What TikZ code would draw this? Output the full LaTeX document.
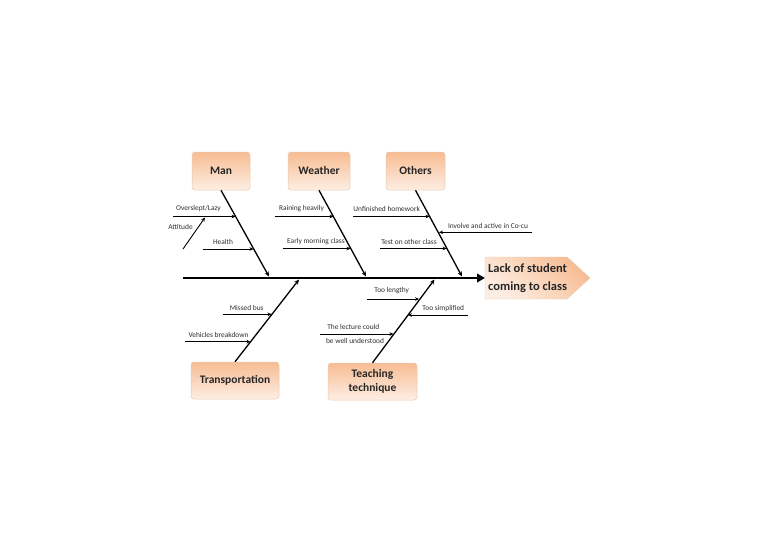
\documentclass[tikz,border=0pt]{standalone}
\usepackage{fontspec}
\setmainfont{Carlito}
\usetikzlibrary{arrows.meta,calc,backgrounds}
\definecolor{boxdark}{HTML}{F7BC92}
\definecolor{boxlight}{HTML}{FDEEE4}
\definecolor{boxedge}{HTML}{E9C9B0}
\definecolor{txt}{HTML}{2E2E2E}
\begin{document}
\begin{tikzpicture}[x=1pt,y=-1pt,
  catbox/.style={rectangle, rounded corners=3pt, draw=boxedge, line width=0.5pt,
    top color=boxdark, bottom color=boxlight, font=\bfseries\fontsize{11.5}{14}\selectfont,
    text=black!85, inner sep=0pt, align=center},
  bone/.style={line width=1.3pt, -{Stealth[length=5pt,width=4.5pt]}},
  cause/.style={line width=0.9pt, -{Stealth[length=4pt,width=3.6pt]}},
  lbl/.style={font=\fontsize{7.4}{8}\selectfont, text=txt, inner sep=0pt},
  spine/.style={line width=2.8pt, -{Triangle[length=8pt,width=8.5pt]}},
  headtext/.style={font=\bfseries\fontsize{12.5}{17.5}\selectfont, text=black!85, align=left,
    anchor=west, inner xsep=3pt, inner ysep=0pt, minimum height=42pt}]
\useasboundingbox (0,0) rectangle (768,543);

% head
\node[headtext] (head) at (485,278) {Lack of student\\coming to class};
\begin{scope}[on background layer]
  \shade[top color=boxdark, bottom color=boxlight, shading angle=-40, draw=boxedge, line width=0.4pt]
    (485,257) -- (567,257) -- (590,278) -- (567,299) -- (485,299) -- cycle;
\end{scope}

% category boxes
\node[catbox, minimum width=58pt, minimum height=38pt] (man) at (221,171) {Man};
\node[catbox, minimum width=62pt, minimum height=38pt] (weather) at (319,171) {Weather};
\node[catbox, minimum width=59pt, minimum height=38pt] (others) at (415.5,171) {Others};
\node[catbox, minimum width=88pt, minimum height=37pt] (trans) at (235,380.5) {Transportation};
\node[catbox, minimum width=89pt, minimum height=37pt] (teach) at (372.5,381.5) {Teaching\\technique};

% spine
\coordinate (sp0) at (183,278);
\draw[spine] (sp0) -- (head.west);

% bone ends on spine
\coordinate (manend) at (269,276.5);
\coordinate (weaend) at (366,276.5);
\coordinate (othend) at (462,276.5);
\coordinate (traend) at (299,279.5);
\coordinate (teaend) at (434.5,279.5);

\draw[bone] (man.south) -- (manend);
\draw[bone] (weather.south) -- (weaend);
\draw[bone] (others.south) -- (othend);
\draw[bone] (trans.north) -- (traend);
\draw[bone] (teach.north) -- (teaend);

% Man causes
\coordinate (m1s) at (173,216.5); \coordinate (m1e) at (235.5,216.5);
\coordinate (m2s) at (203,249); \coordinate (m2e) at (253.5,249);
\coordinate (a1s) at (183,249); \coordinate (a1e) at (205,217.5);
\draw[cause] (m1s) -- (m1e);
\draw[cause] (m2s) -- (m2e);
\draw[cause] (a1s) -- (a1e);
\node[lbl] (lm1) at (198.5,209) {Overslept/Lazy};
\node[lbl] (la1) at (180.5,226.5) {Attitude};
\node[lbl] (lm2) at (223,242) {Health};

% Weather causes
\coordinate (w1s) at (275,216.5); \coordinate (w1e) at (333.5,216.5);
\coordinate (w2s) at (283,248.5); \coordinate (w2e) at (350.5,248.5);
\draw[cause] (w1s) -- (w1e);
\draw[cause] (w2s) -- (w2e);
\node[lbl] (lw1) at (301.5,209) {Raining heavily};
\node[lbl] (lw2) at (316,241.5) {Early morning class};

% Others causes
\coordinate (o1s) at (353,216.5); \coordinate (o1e) at (429.5,216.5);
\coordinate (o2s) at (380,248.5); \coordinate (o2e) at (446.5,248.5);
\coordinate (o3s) at (532,232.3); \coordinate (o3e) at (439,232.3);
\draw[cause] (o1s) -- (o1e);
\draw[cause] (o2s) -- (o2e);
\draw[cause] (o3s) -- (o3e);
\node[lbl] (lo1) at (386.7,209) {Unfinished homework};
\node[lbl] (lo2) at (409,241.5) {Test on other class};
\node[lbl] (lo3) at (488,226) {Involve and active in Co-cu};

% Transportation causes
\coordinate (t1s) at (223,314.3); \coordinate (t1e) at (271.5,314.3);
\coordinate (t2s) at (185,341.7); \coordinate (t2e) at (250.5,341.7);
\draw[cause] (t1s) -- (t1e);
\draw[cause] (t2s) -- (t2e);
\node[lbl] (lt1) at (246.7,307.5) {Missed bus};
\node[lbl] (lt2) at (218.5,335) {Vehicles breakdown};

% Teaching technique causes
\coordinate (p1s) at (367,299); \coordinate (p1e) at (419,299);
\coordinate (p2s) at (468,315); \coordinate (p2e) at (408,315);
\coordinate (p3s) at (320,334); \coordinate (p3e) at (393.5,334);
\draw[cause] (p1s) -- (p1e);
\draw[cause] (p2s) -- (p2e);
\draw[cause] (p3s) -- (p3e);
\node[lbl] (lp1) at (391.7,290.7) {Too lengthy};
\node[lbl] (lp2) at (443.3,309) {Too simplified};
\node[lbl] (lp3) at (353.3,327.3) {The lecture could};
\node[lbl] (lp4) at (355,340.5) {be well understood};
\end{tikzpicture}
\end{document}
